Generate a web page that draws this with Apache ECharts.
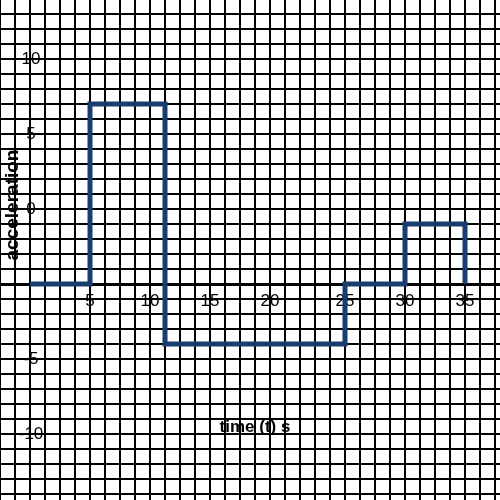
<!DOCTYPE html>
<html>
<head>
<meta charset="utf-8">
<style>
  html, body { margin: 0; padding: 0; background: #fff; }
  #chart { width: 500px; height: 500px; }
</style>
<script src="https://cdn.jsdelivr.net/npm/echarts@6/dist/echarts.min.js"></script>
</head>
<body>
<div id="chart"></div>
<script>
// Step profile: value holds from stepStart[i] until stepStart[i+1] (grid units)
var stepStart = [1, 5, 10, 22, 26, 30];
var accel = [0, 12, -4, 0, 4, 0];

// Tick labels as written on the paper (grid unit -> printed text)
var xTickValues = [5, 9, 13, 17, 22, 26, 30];
var xTickLabels = ['5', '10', '15', '20', '25', '30', '35'];
var yTickValues = [15, 10, 5, -5, -10];
var yTickLabels = ['10', '5', '0', '-5', '-10'];

var xTitle = 'time (t) s';
var yTitle = 'acceleration';

var seriesData = stepStart.map(function (t, i) { return [t, accel[i]]; });

function lookup(values, labels) {
  return function (v) {
    for (var i = 0; i < values.length; i++) {
      if (Math.abs(values[i] - v) < 1e-6) return labels[i];
    }
    return '';
  };
}

var chart = echarts.init(document.getElementById('chart'), null, { renderer: 'canvas' });
chart.setOption({
  animation: false,
  backgroundColor: '#ffffff',
  grid: { left: 0, top: -1, right: -10, bottom: -9, containLabel: false, outerBoundsMode: 'none' },
  xAxis: {
    type: 'value',
    position: 'bottom',
    offset: -225,
    min: -1, max: 33, interval: 1,
    axisLine: { show: true, onZero: false, lineStyle: { color: '#000', width: 3 } },
    axisTick: { show: false },
    splitLine: { show: true, lineStyle: { color: '#000', width: 2 } },
    axisLabel: {
      show: true,
      customValues: xTickValues,
      formatter: lookup(xTickValues, xTickLabels),
      margin: 9,
      color: '#000',
      fontFamily: 'Liberation Sans, Arial, sans-serif',
      fontSize: 17
    }
  },
  yAxis: {
    type: 'value',
    min: -15, max: 19, interval: 1,
    axisLine: { show: false },
    axisTick: { show: false },
    splitLine: { show: true, lineStyle: { color: '#000', width: 2 } },
    axisLabel: {
      customValues: yTickValues,
      formatter: lookup(yTickValues, yTickLabels),
      inside: true,
      margin: 31,
      align: 'center',
      color: '#000',
      fontFamily: 'Liberation Sans, Arial, sans-serif',
      fontSize: 17
    }
  },
  series: [{
    type: 'line',
    step: 'end',
    data: seriesData,
    symbol: 'none',
    lineStyle: { color: '#1a3d6f', width: 5, join: 'miter', cap: 'butt' },
    z: 5
  }],
  graphic: [
    {
      type: 'text', x: 255, y: 427, z: 10,
      style: {
        text: xTitle, fill: '#000', align: 'center', verticalAlign: 'middle',
        font: 'bold 17px "Liberation Sans", Arial, sans-serif'
      }
    },
    {
      type: 'text', x: 13, y: 205, rotation: Math.PI / 2, z: 10,
      style: {
        text: yTitle, fill: '#000', align: 'center', verticalAlign: 'middle',
        font: 'bold 19px "Liberation Sans", Arial, sans-serif'
      }
    }
  ]
});
</script>
</body>
</html>
